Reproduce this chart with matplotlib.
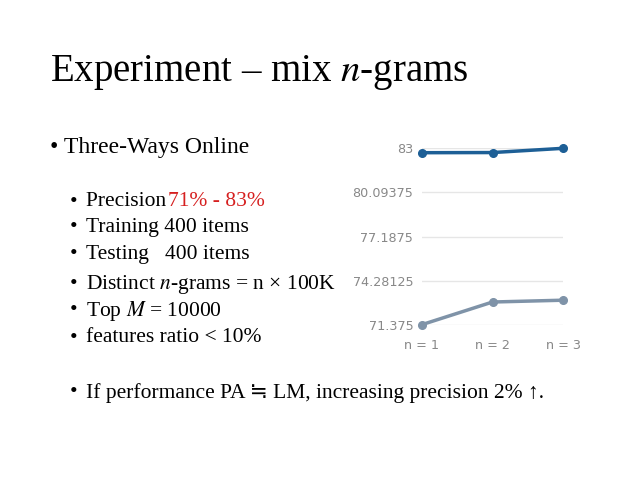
import matplotlib
matplotlib.use("Agg")
import matplotlib.pyplot as plt

categories = ["n = 1", "n = 2", "n = 3"]
series_top = [82.71, 82.72, 83.0]
series_bottom = [71.375, 72.87, 72.99]
yticks = [71.375, 74.28125, 77.1875, 80.09375, 83]
ytick_labels = ["71.375", "74.28125", "77.1875", "80.09375", "83"]

W, H = 638, 479
fig = plt.figure(figsize=(W/100, H/100), dpi=100)
fig.patch.set_facecolor("white")
serif = "Liberation Serif"
SUB = 15.5

def t(x, y, s, size, **kw):
    fig.text(x/W, 1-y/H, s, fontsize=size, family=serif, va="center", **kw)

t(50, 72, "Experiment – mix $\\it{n}$-grams", 28, math_fontfamily="stix")
t(50, 147, "• Three-Ways Online", 17)
t(70, 202, "•", SUB)
fig.text(86/W, 1-202/H, "Precision ", fontsize=SUB, family=serif, va="center")
fig.text(168/W, 1-202/H, "71% - 83%", fontsize=SUB, family=serif, va="center", color="#d62020")
lines = [(228, "Training 400 items"), (255, "Testing   400 items"),
         (284, "Distinct $\\it{n}$-grams = n × 100K"), (311, "Top $\\it{M}$ = 10000"),
         (338, "features ratio < 10%")]
for y, s in lines:
    t(70, y, "•", SUB)
    fig.text(86/W, 1-y/H, s, fontsize=SUB, family=serif, va="center", math_fontfamily="stix")
t(70, 393, "•", SUB)
fig.text(86/W, 1-393/H, "If performance PA ≒ LM, increasing precision 2% ↑.", fontsize=SUB,
         family=["Liberation Serif", "DejaVu Sans"], va="center")

y0, y1 = 71.375, 83
py0, py1 = 324.7, 148.3
ax = fig.add_axes([421.7/W, 1-py0/H, (563.3-421.7)/W, (py0-py1)/H])
x = [0, 1, 2]
ax.set_xlim(0, 2); ax.set_ylim(y0, y1)
for v in yticks:
    ax.axhline(v, color="#e6e6e6", lw=1, zorder=0)
ax.plot(x, series_top, color="#1d5f96", lw=2.5, marker="o", ms=5.5, clip_on=False)
ax.plot(x, series_bottom, color="#7f93a8", lw=2.5, marker="o", ms=5.5, clip_on=False)
ax.set_yticks(yticks); ax.set_yticklabels(ytick_labels)
ax.set_xticks(x); ax.set_xticklabels(categories)
for s in ax.spines.values():
    s.set_visible(False)
ax.tick_params(length=0, labelsize=9.2, labelcolor="#888888", pad=6)
ax.tick_params(axis="x", pad=10)
ax.patch.set_alpha(0)
fig.savefig("out.png", dpi=100)
